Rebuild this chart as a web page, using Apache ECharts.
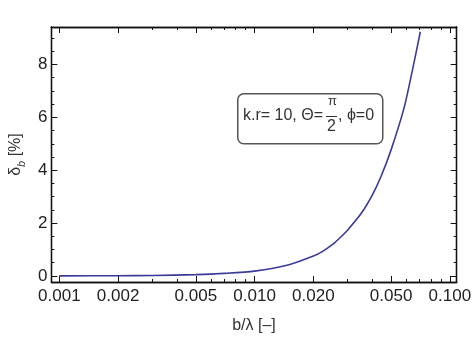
<!DOCTYPE html>
<html>
<head>
<meta charset="utf-8">
<script src="https://cdn.jsdelivr.net/npm/echarts@6/dist/echarts.min.js"></script>
<style>html,body{margin:0;padding:0;background:#fff}#c{width:474px;height:339px}</style>
</head>
<body>
<div id="c"></div>
<script>
// Data (x: b/lambda, y: delta_b in %)
const xValues = [0.001, 0.002, 0.003, 0.005, 0.007, 0.01, 0.015, 0.02, 0.0221, 0.025, 0.0279, 0.03, 0.0352, 0.04, 0.0444, 0.05, 0.0582, 0.0641, 0.0706];
const yValues = [0.002, 0.008, 0.017, 0.05, 0.095, 0.18, 0.42, 0.75, 0.91, 1.18, 1.50, 1.74, 2.37, 3.05, 3.76, 4.77, 6.34, 7.73, 9.24];
const xMajorTicks = [0.001, 0.002, 0.005, 0.01, 0.02, 0.05, 0.1];
const xMinorTicks = [0.003, 0.004, 0.006, 0.007, 0.008, 0.009, 0.03, 0.04, 0.06, 0.07, 0.08, 0.09];
const yMajorTicks = [0, 2, 4, 6, 8];
const yMinorTicks = [0.5, 1, 1.5, 2.5, 3, 3.5, 4.5, 5, 5.5, 6.5, 7, 7.5, 8.5, 9];
const xRange = [0.00091, 0.1084];
const yRange = [-0.23, 9.42];

const lg = v => Math.log10(v);
const FONT = '"Liberation Sans", Arial, sans-serif';
const chart = echarts.init(document.getElementById('c'), null, {renderer: 'canvas'});

function xAx(pos, ticks, len, labels, extra) {
  return Object.assign({
    type: 'value', position: pos, min: lg(xRange[0]), max: lg(xRange[1]),
    axisLine: {show: true, onZero: false, lineStyle: {color: '#111', width: 1.3}},
    axisTick: {show: true, inside: true, length: len, customValues: ticks.map(lg), lineStyle: {color: '#111', width: 1}},
    axisLabel: labels ? {show: true, customValues: ticks.map(lg), formatter: v => Math.pow(10, v).toFixed(3),
      fontFamily: FONT, fontSize: 17, color: '#222', margin: 6} : {show: false},
    splitLine: {show: false}
  }, extra || {});
}
function yAx(pos, ticks, len, labels, extra) {
  return Object.assign({
    type: 'value', position: pos, min: yRange[0], max: yRange[1],
    axisLine: {show: true, onZero: false, lineStyle: {color: '#111', width: 1.3}},
    axisTick: {show: true, inside: true, length: len, customValues: ticks, lineStyle: {color: '#111', width: 1}},
    axisLabel: labels ? {show: true, customValues: ticks, fontFamily: FONT, fontSize: 17, color: '#222', margin: 4} : {show: false},
    splitLine: {show: false}
  }, extra || {});
}

chart.setOption({
  animation: false,
  backgroundColor: '#fff',
  grid: {left: 45, right: 17, top: 27, bottom: 57},
  xAxis: [
    xAx('bottom', xMajorTicks, 6, true, {
      name: 'b/λ [–]', nameLocation: 'middle', nameGap: 36,
      nameTextStyle: {fontFamily: FONT, fontSize: 16, color: '#333'}
    }),
    xAx('bottom', xMinorTicks, 3, false),
    xAx('top', xMajorTicks, 6, false),
    xAx('top', xMinorTicks, 3, false)
  ],
  yAxis: [
    yAx('left', yMajorTicks, 6, true, {
      name: '{d|δ}{b|b}{d| [%]}', nameLocation: 'middle', nameGap: 24, nameRotate: 90,
      nameTextStyle: {fontFamily: FONT, fontSize: 16, color: '#333',
        rich: {d: {fontFamily: FONT, fontSize: 16, color: '#333', lineHeight: 22, verticalAlign: 'middle'},
               b: {fontFamily: FONT, fontSize: 11, fontStyle: 'italic', color: '#333', lineHeight: 22, verticalAlign: 'bottom'}}}
    }),
    yAx('left', yMinorTicks, 3, false),
    yAx('right', yMajorTicks, 6, false),
    yAx('right', yMinorTicks, 3, false)
  ],
  series: [{
    type: 'line', xAxisIndex: 0, yAxisIndex: 0, smooth: 0.25, symbol: 'none',
    lineStyle: {color: '#3a3a98', width: 1.6},
    data: xValues.map((x, i) => [lg(x), yValues[i]])
  }],
  graphic: [
    {type: 'rect', left: 237, top: 93, shape: {width: 145, height: 50, r: 6},
     style: {fill: '#fff', stroke: '#555', lineWidth: 1.5}, z: 100},
    {type: 'text', left: 243, top: 108, z: 101,
     style: {text: 'k.r= 10, Θ=', font: '16px ' + FONT, fill: '#333'}},
    {type: 'text', left: 328, top: 95, z: 101,
     style: {text: 'π', font: '13px ' + FONT, fill: '#333'}},
    {type: 'line', z: 101, shape: {x1: 326, y1: 116.5, x2: 337, y2: 116.5}, style: {stroke: '#333', lineWidth: 1}},
    {type: 'text', left: 327, top: 119, z: 101,
     style: {text: '2', font: '16px ' + FONT, fill: '#333'}},
    {type: 'text', left: 338, top: 108, z: 101,
     style: {text: ', ϕ=0', font: '16px ' + FONT, fill: '#333'}}
  ]
});
</script>
</body>
</html>
